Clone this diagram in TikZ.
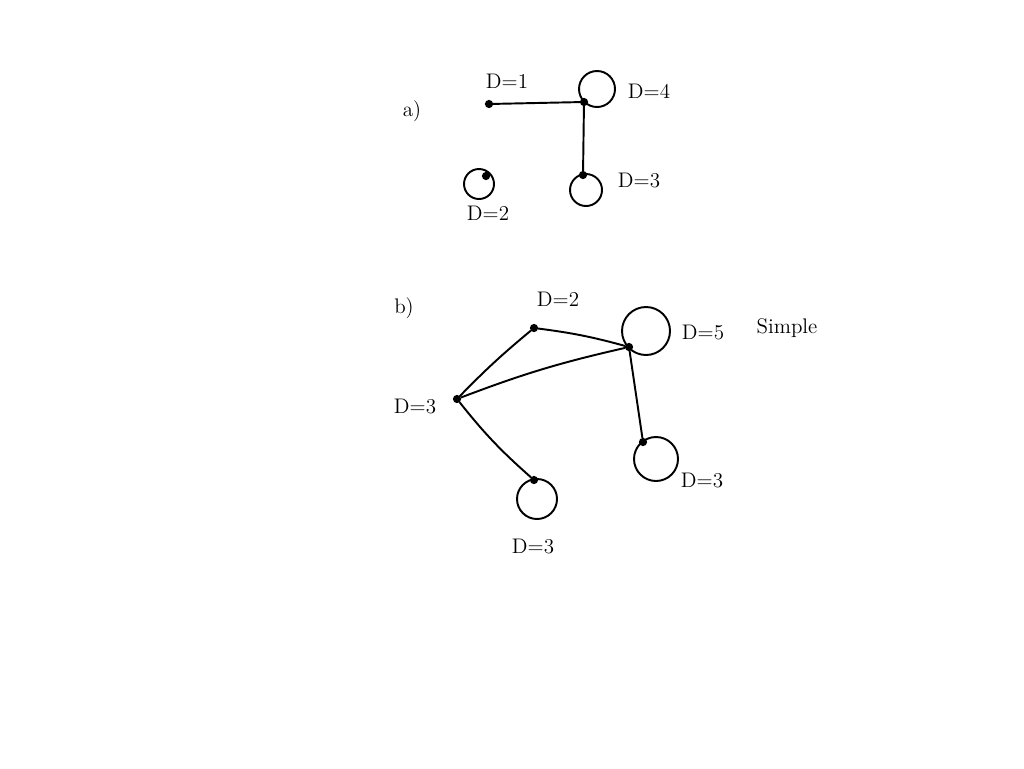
\documentclass[tikz,border=0pt]{standalone}
\usepackage{tikz}
\usetikzlibrary{positioning}
\usetikzlibrary{calc}
\tikzset{vtx/.style={circle,fill,draw,inner sep=0pt,minimum size=3.5pt},
lbl/.style={font=\large},
lp/.style={line width=1.1pt}}
\begin{document}
\begin{tikzpicture}[x=0.02cm,y=-0.02cm,line width=1.1pt]
\useasboundingbox (0,0) rectangle (1024,768);
%% part a)
\path node[lbl] (pa) at (412,111) {a)};
\path node[vtx] (a1) at (489,104) {};
\path node[vtx] (a4) at (584,102) {};
\path node[vtx] (a3) at (583,175) {};
\path node[vtx] (a2) at (486,176) {};
\path (a1) edge (a4);
\path (a4) edge (a3);
\draw[lp] ($(a4)+(13,-13)$) circle[radius=18];
\draw[lp] ($(a3)+(3,15)$) circle[radius=16];
\draw[lp] ($(a2)+(-7,8)$) circle[radius=15];
\path node[lbl] (la1) at (507,81) {D=1};
\path node[lbl] (la4) at (649,91) {D=4};
\path node[lbl] (la3) at (639,181) {D=3};
\path node[lbl] (la2) at (488,213) {D=2};
%% part b)
\path node[lbl] (pb) at (404,308) {b)};
\path node[vtx] (b2) at (534,328) {};
\path node[vtx] (b5) at (629,347) {};
\path node[vtx] (b3) at (457,399) {};
\path node[vtx] (bl) at (534,480) {};
\path node[vtx] (br) at (643,442) {};
\path (b2) edge[bend left=4] (b5);
\path (b3) edge[bend left=3] (b2);
\path (b3) edge[bend left=4] (b5);
\path (b3) edge[bend right=5] (bl);
\path (b5) edge (br);
\draw[lp] ($(b5)+(17,-16)$) circle[radius=24];
\draw[lp] ($(bl)+(3,19)$) circle[radius=20];
\draw[lp] ($(br)+(13,17)$) circle[radius=22];
\path node[lbl] (lb2) at (558,299) {D=2};
\path node[lbl] (lb5) at (703,333) {D=5};
\path node[lbl] (lb3) at (415,407) {D=3};
\path node[lbl] (lbr) at (702,481) {D=3};
\path node[lbl] (lbl) at (533,547) {D=3};
\path node[lbl] (smp) at (787,328) {Simple};
\end{tikzpicture}
\end{document}
